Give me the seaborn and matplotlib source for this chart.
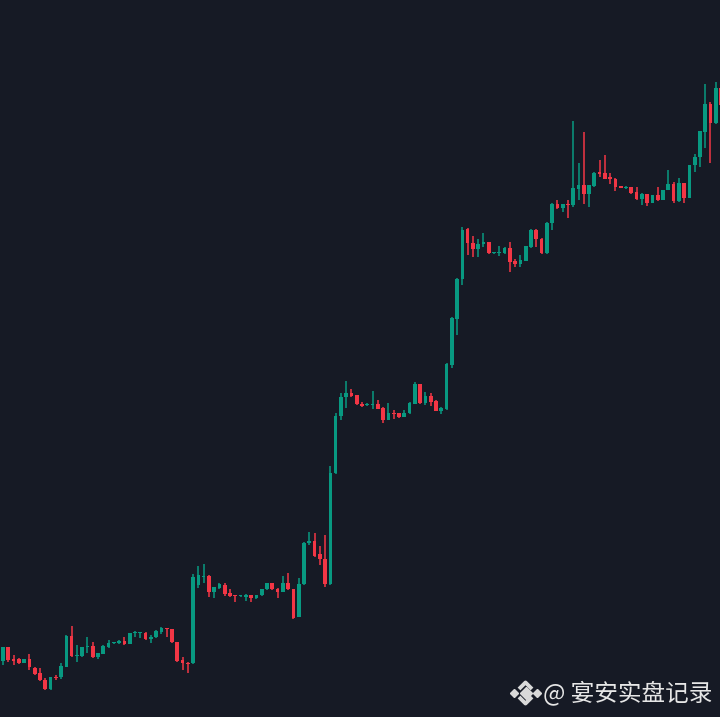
import numpy as np
import pandas as pd
import matplotlib
matplotlib.use('Agg')
import matplotlib.pyplot as plt
import seaborn as sns

# OHLC values (arbitrary price units, no axis shown)
opens = [56, 70, 58, 58, 54, 58, 49, 44, 37, 28, 40, 40, 50, 81, 61, 61, 70, 71, 60, 63,
         70, 74, 74, 76, 73, 84, 84, 84, 78, 80, 85, 89, 88, 75, 57, 54, 54, 132, 140, 141,
         125, 129, 132, 124, 122, 121, 120, 122, 119, 122, 128, 134, 128, 125, 134, 128, 100, 133, 174, 176,
         163, 158, 133, 244, 301, 320, 324, 322, 313, 312, 312, 313, 309, 297, 304, 304, 300, 304, 313, 333,
         314, 321, 316, 306, 308, 352, 398, 438, 488, 474, 468, 473, 475, 464, 464, 464, 469, 456, 453, 456,
         470, 487, 478, 464, 494, 513, 509, 513, 512, 528, 532, 523, 531, 545, 544, 539, 538, 530, 529, 530,
         525, 518, 523, 514, 522, 517, 527, 533, 516, 534, 519, 552, 560, 585, 613, 594, 629]
highs = [70, 70, 62, 59, 58, 63, 50, 49, 39, 40, 42, 54, 82, 91, 72, 70, 80, 75, 64, 72,
         77, 75, 77, 80, 84, 86, 85, 85, 82, 87, 90, 89, 88, 75, 60, 55, 143, 151, 153, 142,
         130, 134, 134, 128, 122, 122, 123, 122, 122, 128, 134, 134, 129, 141, 144, 128, 139, 175, 185, 184,
         171, 182, 251, 304, 324, 336, 328, 322, 315, 314, 326, 317, 310, 314, 307, 304, 307, 315, 335, 333,
         325, 324, 317, 310, 354, 400, 439, 490, 489, 481, 478, 484, 475, 465, 471, 470, 475, 458, 462, 471,
         488, 488, 479, 495, 514, 517, 513, 517, 596, 554, 585, 532, 545, 557, 562, 544, 539, 530, 531, 530,
         530, 524, 523, 522, 530, 527, 547, 535, 539, 534, 552, 563, 586, 633, 615, 635, 632]
lows = [52, 55, 52, 53, 54, 47, 42, 36, 27, 27, 37, 38, 50, 60, 55, 60, 64, 59, 58, 63,
        69, 73, 73, 72, 73, 80, 79, 77, 74, 79, 83, 80, 74, 55, 47, 44, 53, 129, 134, 120,
        119, 128, 121, 120, 115, 120, 116, 115, 118, 121, 127, 127, 119, 125, 127, 98, 100, 132, 172, 160,
        152, 130, 132, 243, 297, 309, 320, 312, 310, 311, 308, 308, 294, 297, 298, 299, 300, 303, 313, 313,
        312, 311, 306, 303, 307, 349, 382, 432, 462, 460, 460, 470, 463, 463, 461, 463, 445, 450, 450, 456,
        469, 470, 463, 463, 487, 508, 505, 499, 510, 517, 513, 510, 530, 540, 538, 533, 526, 529, 528, 523,
        517, 512, 511, 514, 516, 517, 527, 514, 515, 514, 519, 545, 550, 569, 554, 593, 607]
closes = [70, 57, 56, 54, 58, 50, 43, 37, 28, 40, 39, 51, 81, 61, 62, 70, 71, 60, 64, 71,
          74, 74.5, 76, 73, 84, 85, 85, 78, 80, 86, 89, 88, 75, 56, 54, 53, 140, 142, 141, 125,
          130, 133, 123, 121, 121, 121.5, 122, 119, 122, 128, 134, 128, 125, 134, 128, 99, 133, 174, 176, 161,
          158, 133, 244, 301, 320, 324, 321, 313, 311, 313, 313, 308, 297, 304, 303, 300, 304, 314, 333, 314,
          321, 315, 306, 309, 353, 399, 438, 487, 474, 468, 473, 475, 464, 464.5, 465, 469, 455, 453, 457, 471,
          487, 478, 464, 494, 513, 509, 513, 512, 529, 532, 523, 532, 544, 543, 538, 538.5, 530, 529.5, 530, 524,
          518, 523, 514, 522, 517, 527, 533, 516, 534, 519, 552, 560, 586, 613, 594, 629, 612]

up_color = '#089981'
down_color = '#f23645'
bg_color = '#161a25'

df = pd.DataFrame({'open': opens, 'high': highs, 'low': lows, 'close': closes})
df['idx'] = np.arange(len(df))
df['up'] = df['close'] >= df['open']
df['color'] = np.where(df['up'], up_color, down_color)
df['bottom'] = df[['open', 'close']].min(axis=1)
df['height'] = (df['close'] - df['open']).abs().clip(lower=1.2)

sns.set_theme(style='dark', rc={'axes.facecolor': bg_color, 'figure.facecolor': bg_color})
plt.rcParams['font.family'] = ['Noto Sans CJK SC', 'DejaVu Sans']

fig = plt.figure(figsize=(7.2, 7.17), dpi=100)
ax = fig.add_axes([0, 0, 1, 1])

# wicks, then bodies
ax.vlines(df['idx'], df['low'], df['high'], colors=df['color'], linewidth=1.1, zorder=2)
ax.bar(df['idx'], df['height'], bottom=df['bottom'], width=0.7, color=df['color'],
       linewidth=0, zorder=3)

ax.set_xlim(-0.57, 135.8)
ax.set_ylim(0, 717)
ax.set_axis_off()

# watermark overlay in pixel coordinates
wm = fig.add_axes([0, 0, 1, 1], facecolor='none')
wm.set_xlim(0, 720)
wm.set_ylim(717, 0)
wm.set_axis_off()
logo_col = '#d9d9d9'
wm.plot([514], [693], marker='D', markersize=4.5, color=logo_col, linestyle='none')
wm.plot([537], [693], marker='D', markersize=4.5, color=logo_col, linestyle='none')
wm.plot([525.5], [693], marker='D', markersize=6, color=logo_col, linestyle='none')
wm.plot([519, 525.5, 532], [689, 682.5, 689], color=logo_col, linewidth=2.8, solid_capstyle='butt')
wm.plot([519, 525.5, 532], [697, 703.5, 697], color=logo_col, linewidth=2.8, solid_capstyle='butt')
wm.text(543, 693, '@ 宴安实盘记录', color='#e6e6e6', fontsize=17, fontweight='medium',
        va='center', ha='left')

fig.savefig('out.png', dpi=100, facecolor=bg_color)
